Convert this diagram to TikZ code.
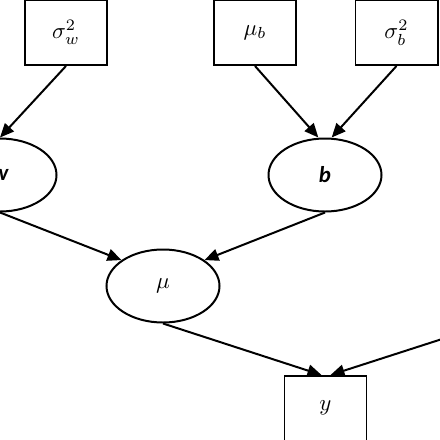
\documentclass[tikz,border=0pt]{standalone}
\usepackage{graphicx}
\usepackage{fontspec}
\newfontfamily\carl{Carlito}
\usetikzlibrary{arrows.meta,shapes.geometric}
\newcommand{\bigtxt}[1]{\scalebox{1.95}{#1}}
\tikzset{
  box/.style={draw, line width=1.7pt, rectangle, inner sep=0pt, minimum width=2.46cm, minimum height=1.95cm},
  ell/.style={draw, line width=1.7pt, ellipse, inner sep=0pt, minimum width=3.39cm, minimum height=2.19cm},
  arr/.style={line width=1.7pt, -{Triangle[length=0.42cm, width=0.36cm]}},
}
\begin{document}
\begin{tikzpicture}[x=0.03cm, y=-0.03cm]
\useasboundingbox (0,0) rectangle (440,440);
\node[box] (sw) at (66,32.5) {\bigtxt{$\sigma_w^2$}};
\node[box] (mb) at (255,32.5) {\bigtxt{$\mu_b$}};
\node[box] (sb) at (396.5,32.5) {\bigtxt{$\sigma_b^2$}};
\node[ell] (w) at (0,175) {\bigtxt{\carl\bfseries\itshape w}};
\node[ell] (b) at (325,175) {\bigtxt{\carl\bfseries\itshape b}};
\node[ell] (mu) at (163,286) {\bigtxt{$\mu$}};
\node[box, minimum height=2.4cm, anchor=north] (y) at (325.5,375) {\raisebox{0.62cm}{\bigtxt{$y$}}};
\coordinate (r) at (470,330);
\draw[arr] (sw.south) -- (w.north);
\draw[arr] (mb.south) -- ([xshift=-0.2cm]b.north);
\draw[arr] (sb.south) -- ([xshift=0.2cm]b.north);
\draw[arr] (w.south) -- (mu.148);
\draw[arr] (b.south) -- (mu.32);
\draw[arr] (mu.south) -- ([xshift=-0.12cm]y.north);
\draw[arr] (r) -- ([xshift=0.15cm]y.north);
\end{tikzpicture}
\end{document}
